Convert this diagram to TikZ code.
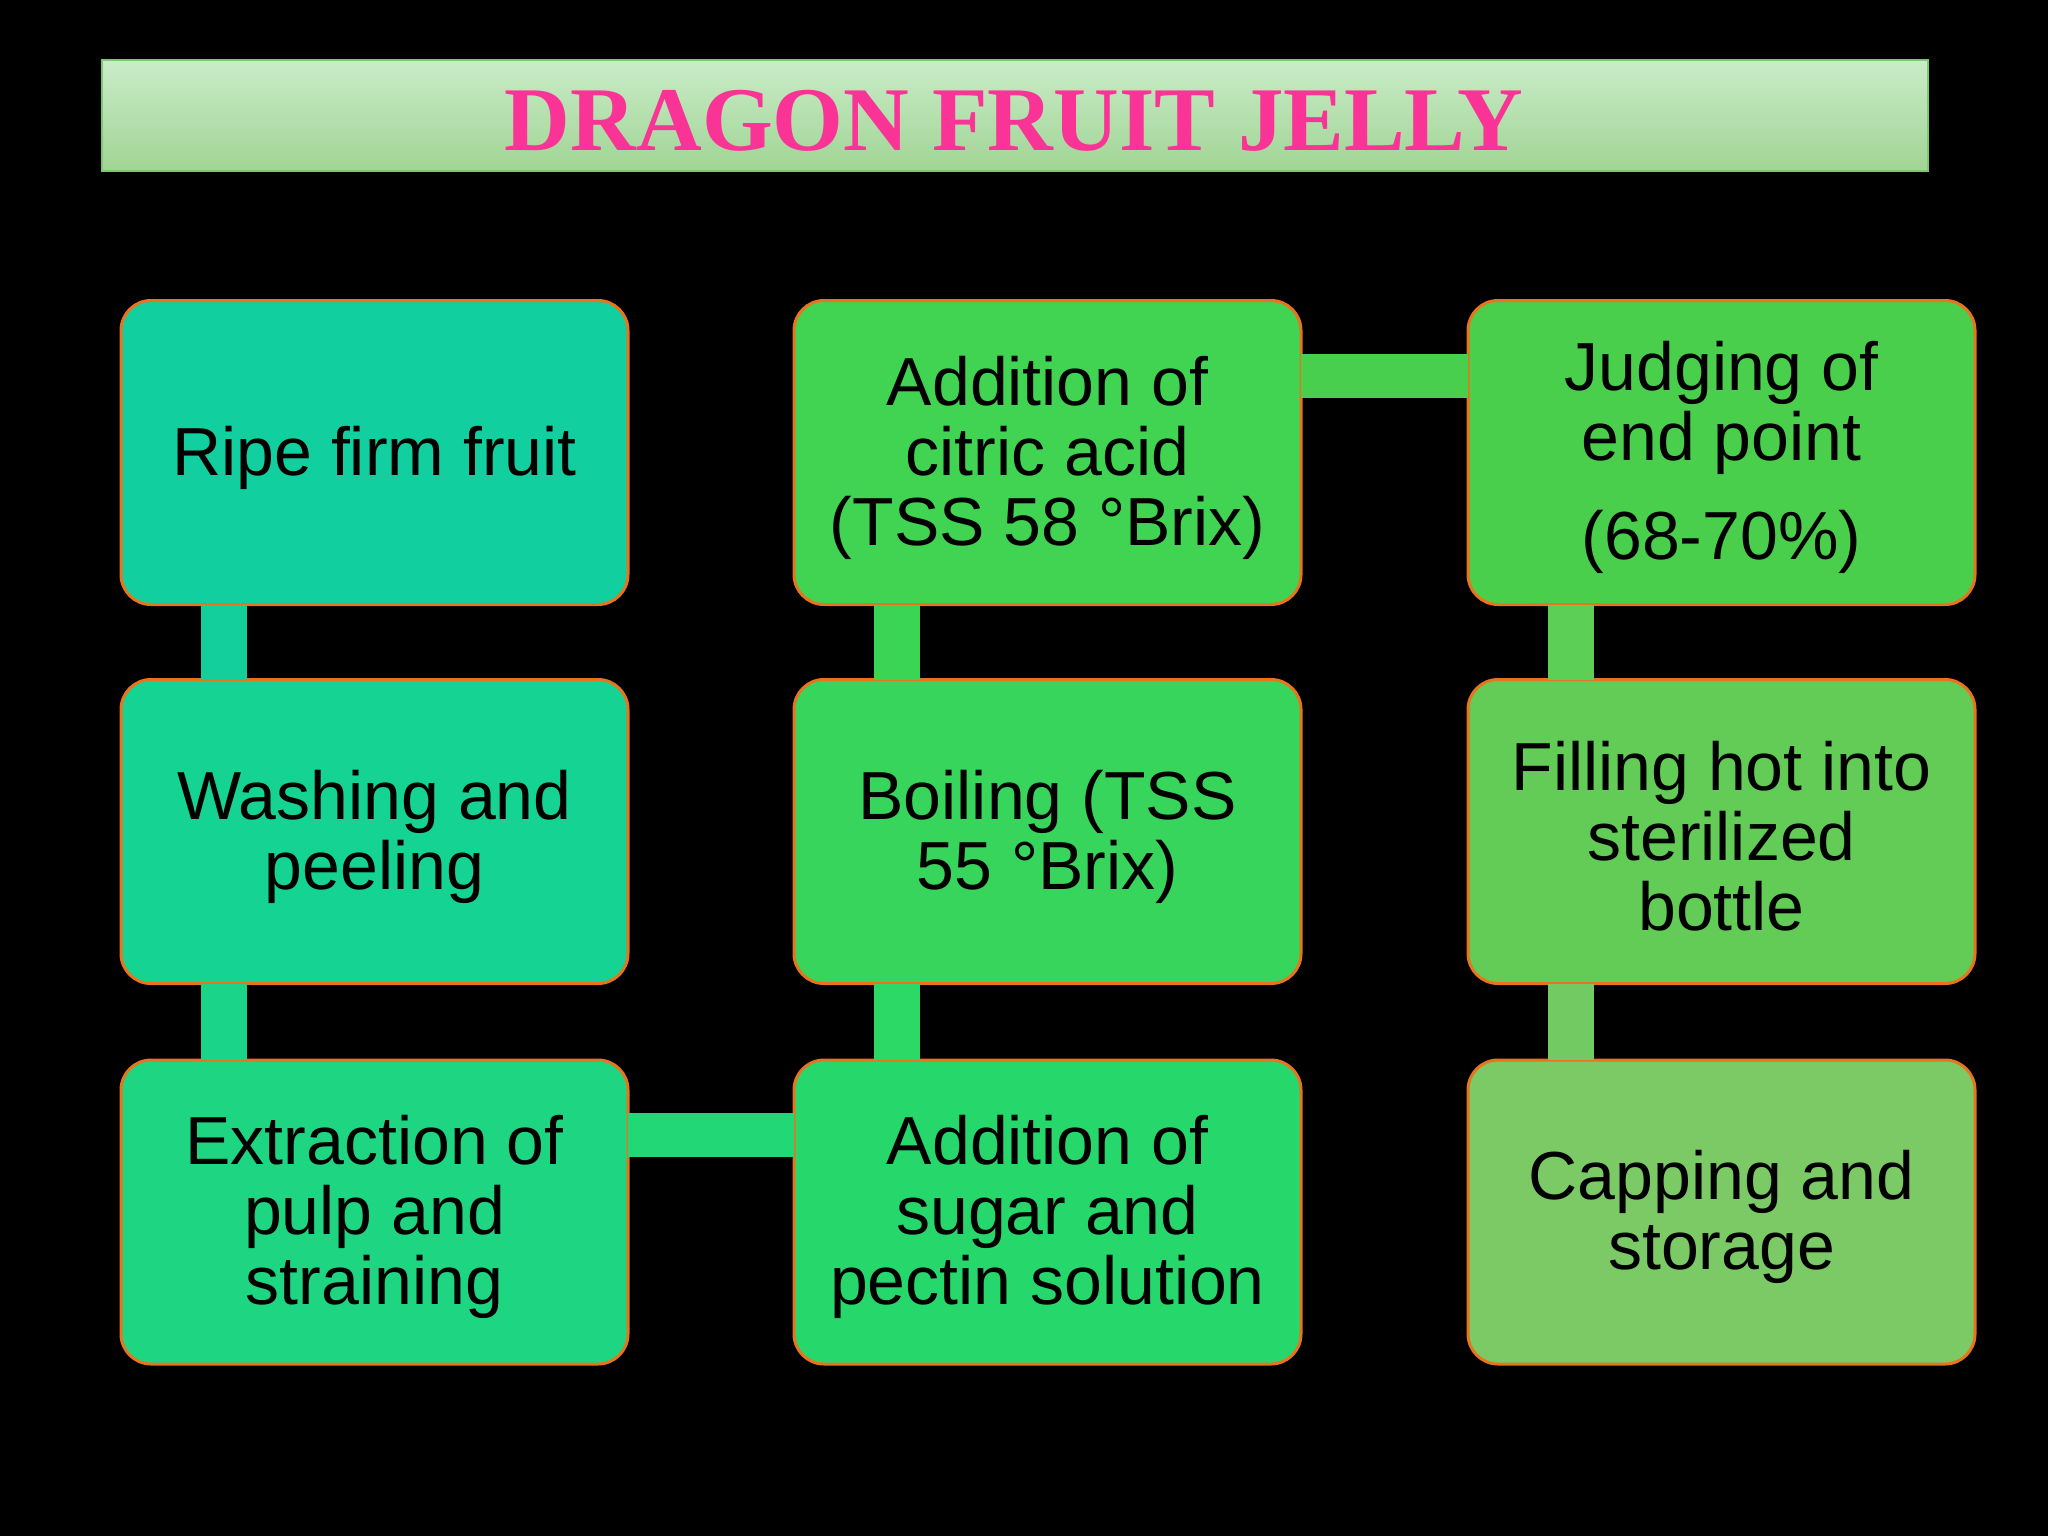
\documentclass[tikz,border=0pt]{standalone}
\usepackage{fontspec}
\setmainfont{Liberation Sans}
\newfontfamily\titlefont{Liberation Serif}
\definecolor{bA}{HTML}{12CFA0}
\definecolor{bB}{HTML}{15D393}
\definecolor{bC}{HTML}{1ED681}
\definecolor{bD}{HTML}{26D86C}
\definecolor{bE}{HTML}{37D55B}
\definecolor{bF}{HTML}{40D452}
\definecolor{bG}{HTML}{4ACF4C}
\definecolor{bH}{HTML}{63CC56}
\definecolor{bI}{HTML}{7BCA66}
\definecolor{cAB}{HTML}{13CF9C}
\definecolor{cBC}{HTML}{1AD48A}
\definecolor{cCD}{HTML}{21D776}
\definecolor{cDE}{HTML}{2CD866}
\definecolor{cEF}{HTML}{3BD556}
\definecolor{cFG}{HTML}{48CF4E}
\definecolor{cGH}{HTML}{5CCF56}
\definecolor{cHI}{HTML}{72CA62}
\definecolor{edge}{HTML}{E8741E}
\definecolor{titlepink}{HTML}{FA3396}
\tikzset{
  stepbox/.style={draw=edge, line width=3pt, rounded corners=30pt, minimum width=507pt, minimum height=304pt, inner sep=0pt, outer sep=0pt},
  steptext/.style={align=center, text=black, inner sep=0pt, yshift=-5pt, font=\fontsize{68}{70}\selectfont},
}
\begin{document}
\begin{tikzpicture}[x=1pt,y=-1pt]
\useasboundingbox[fill=black] (0,0) rectangle (2048,1536);
% title
\node[draw={rgb,255:red,125;green,200;blue,112}, line width=2pt, top color={rgb,255:red,202;green,236;blue,200}, bottom color={rgb,255:red,160;green,212;blue,148}, minimum width=1826pt, minimum height=111pt, inner sep=0pt, outer sep=0pt] (title) at (1015,115.5) {};
\node[anchor=base, text=titlepink, font=\titlefont\bfseries\fontsize{91}{91}\selectfont, inner sep=0pt] (titletext) at (1014,150) {DRAGON FRUIT JELLY};
% boxes
\node[stepbox, fill=bA, label={[steptext]center:{Ripe firm fruit}}] (b1) at (374.5,452.5) {};
\node[stepbox, fill=bB, label={[steptext]center:{Washing and\\peeling}}] (b2) at (374.5,831.5) {};
\node[stepbox, fill=bC, label={[steptext]center:{Extraction of\\pulp and\\straining}}] (b3) at (374.5,1212) {};
\node[stepbox, fill=bD, label={[steptext]center:{Addition of\\sugar and\\pectin solution}}] (b4) at (1047.5,1212) {};
\node[stepbox, fill=bE, label={[steptext]center:{Boiling (TSS\\55 °Brix)}}] (b5) at (1047.5,831.5) {};
\node[stepbox, fill=bF, label={[steptext]center:{Addition of\\citric acid\\(TSS 58 °Brix)}}] (b6) at (1047.5,452.5) {};
\node[stepbox, fill=bG, label={[steptext]center:{Judging of\\end point\\[29pt](68-70\%)}}] (b7) at (1721.5,452.5) {};
\node[stepbox, fill=bH, label={[steptext]center:{Filling hot into\\sterilized\\bottle}}] (b8) at (1721.5,831.5) {};
\node[stepbox, fill=bI, label={[steptext]center:{Capping and\\storage}}] (b9) at (1721.5,1212) {};
% connectors
\fill[cAB] ([xshift=80pt]b1.south west) rectangle ([xshift=126pt]b2.north west);
\fill[cBC] ([xshift=80pt]b2.south west) rectangle ([xshift=126pt]b3.north west);
\fill[cCD] ([yshift=-53pt]b3.north east) rectangle ([yshift=-97pt]b4.north west);
\fill[cDE] ([xshift=80pt]b4.north west) rectangle ([xshift=126pt]b5.south west);
\fill[cEF] ([xshift=80pt]b5.north west) rectangle ([xshift=126pt]b6.south west);
\fill[cFG] ([yshift=-53pt]b6.north east) rectangle ([yshift=-97pt]b7.north west);
\fill[cGH] ([xshift=80pt]b7.south west) rectangle ([xshift=126pt]b8.north west);
\fill[cHI] ([xshift=80pt]b8.south west) rectangle ([xshift=126pt]b9.north west);
\end{tikzpicture}
\end{document}
